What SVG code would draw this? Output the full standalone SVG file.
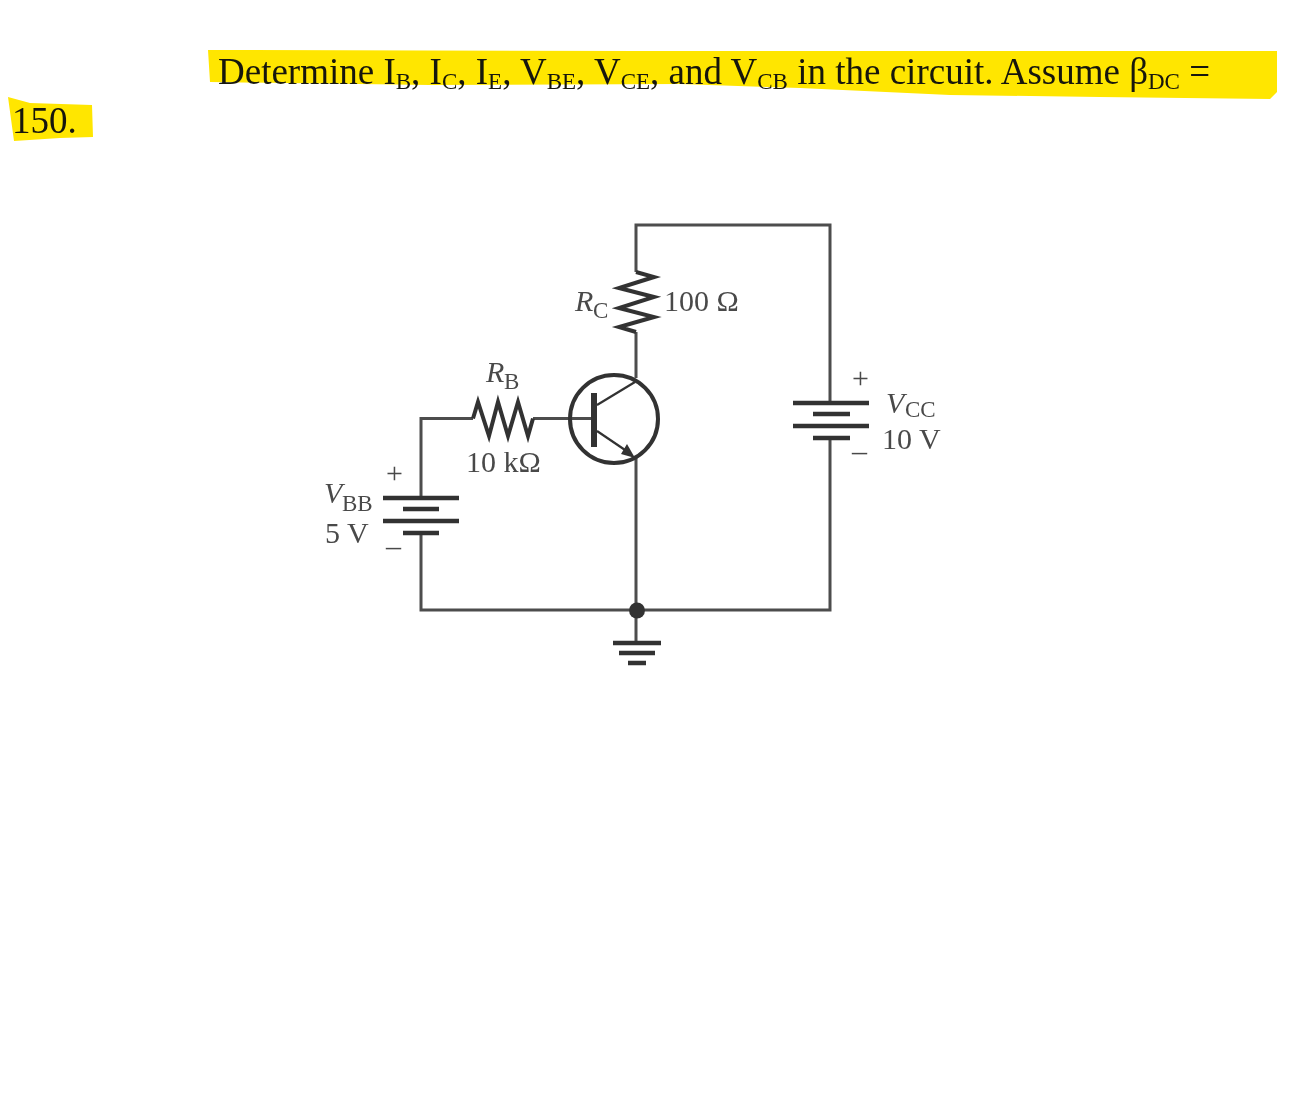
<svg xmlns="http://www.w3.org/2000/svg" width="1290" height="1107" viewBox="0 0 1290 1107">
<style>
text{font-family:"Liberation Serif","Times New Roman",serif}
.q{font-size:37px;fill:#14140a}
.q tspan.s{font-size:23px}
.l{font-size:30px;fill:#4a4a4a}
.i{font-style:italic}
.sub{font-size:23px;fill:#4a4a4a}
.w{fill:none;stroke:#4d4d4d;stroke-width:3}
.z{fill:none;stroke:#333;stroke-width:4;stroke-linejoin:miter}
.p{fill:none;stroke:#333;stroke-width:4.5}
.t{fill:none;stroke:#333;stroke-width:2.2}
</style>
<defs><filter id="b" x="-5%" y="-5%" width="110%" height="110%"><feGaussianBlur stdDeviation="0.7"/></filter></defs>
<rect width="1290" height="1107" fill="#fff"/>
<g id="highlight" fill="#ffe600" filter="url(#b)">
<path d="M208 50L640 51L1000 51L1277 51L1277 92L1270 99L1100 97L950 95L800 88L680 84L430 85L210 82Z"/>
<path d="M8 97L30 103L92 105L93 137L60 138L14 141Z"/>
</g>
<g id="question" filter="url(#b)">
<text class="q" x="218" y="84">Determine I<tspan class="s" dy="5">B</tspan><tspan dy="-5">, I</tspan><tspan class="s" dy="5">C</tspan><tspan dy="-5">, I</tspan><tspan class="s" dy="5">E</tspan><tspan dy="-5">, V</tspan><tspan class="s" dy="5">BE</tspan><tspan dy="-5">, V</tspan><tspan class="s" dy="5">CE</tspan><tspan dy="-5">, and V</tspan><tspan class="s" dy="5">CB</tspan><tspan dy="-5"> in the circuit. Assume β</tspan><tspan class="s" dy="5">DC</tspan><tspan dy="-5"> =</tspan></text>
<text class="q" x="12" y="133">150.</text>
</g>
<g id="connectors" filter="url(#b)">
<path class="w" d="M636 272V225H830V403M830 438V610H421V533M421 498V418.500H473M533 418.500H592M636 332V378M636 457V643"/>
</g>
<g id="rc" filter="url(#b)">
<path class="z" d="M636 272L654 277L619 288L654 297L619 308L654 317L619 327L636 332"/>
<text class="l i" x="575" y="311">R</text><text class="sub" x="593" y="318">C</text>
<text class="l" x="664" y="311">100 Ω</text>
</g>
<g id="rb" filter="url(#b)">
<path class="z" d="M473 418.500L478 402L489 436L498 402L508 436L518 402L528 436L533 418.500"/>
<text class="l i" x="486" y="382">R</text><text class="sub" x="504" y="389">B</text>
<text class="l" x="466" y="472">10 kΩ</text>
</g>
<g id="transistor" filter="url(#b)">
<circle cx="614" cy="419" r="44" fill="none" stroke="#333" stroke-width="4"/>
<path d="M594 393V447" fill="none" stroke="#333" stroke-width="6"/>
<path class="t" d="M597 405L635 382M597 431L628 452"/>
<path d="M635 458L621 454L627 444Z" fill="#333"/>
</g>
<g id="vbb" filter="url(#b)">
<path class="p" d="M383 498H459M403 509H439M383 521H459M403 533H439"/>
<text class="l" x="386" y="483">+</text>
<text class="l i" x="324" y="503">V</text><text class="sub" x="342" y="511">BB</text>
<text class="l" x="325" y="543">5 V</text>
<text class="l" x="386" y="556" fill="#999">–</text>
</g>
<g id="vcc" filter="url(#b)">
<path class="p" d="M793 403H869M813 414H850M793 426H869M813 438H850"/>
<text class="l" x="852" y="388">+</text>
<text class="l i" x="886" y="413">V</text><text class="sub" x="905" y="417">CC</text>
<text class="l" x="882" y="449">10 V</text>
<text class="l" x="852" y="461">–</text>
</g>
<g id="ground" filter="url(#b)">
<circle cx="637" cy="610.500" r="8" fill="#333"/>
<path class="p" d="M613 643H661M619 653H655M628 663H646"/>
</g>
</svg>
